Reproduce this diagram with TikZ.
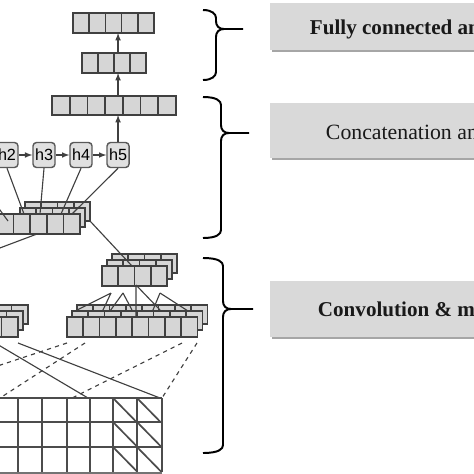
\documentclass[tikz,border=0pt]{standalone}
\usepackage{fontspec}
\setmainfont{Liberation Serif}
\newfontfamily\hfont{Liberation Sans}
\usetikzlibrary{calc, positioning}

\tikzset{
  cell/.style={draw=black!75, fill=black!16, line width=1.2pt},
  hbox/.style={draw=black!65, fill=black!12, rounded corners=2.5pt, line width=1pt,
    minimum width=0.55cm, minimum height=0.625cm, inner sep=0pt,
    font=\hfont\fontsize{11.5}{13}\selectfont},
  link/.style={black!75, line width=0.8pt},
  gridline/.style={black!70, line width=1.2pt},
  curly/.style={black, line width=1.4pt},
  tag/.style={fill=black!15},
  tagtext/.style={anchor=west, text=black!90},
}

% a row of cells: name, left, top, cells, cell width, height
\newcommand{\cellrow}[6]{%
  \foreach \k in {1,...,#4}
    \draw[cell] ({#2+(\k-1)*#5},{#3}) rectangle ++(#5,#6);
  \coordinate (#1-nw) at ({#2},{#3});
  \coordinate (#1-se) at ({#2+#4*#5},{#3+#6});
}
% three stacked feature maps
\newcommand{\layers}[5]{%
  \cellrow{#1-c}{#2+10}{#3-12}{#4}{#5}{19}
  \cellrow{#1-b}{#2+5}{#3-6}{#4}{#5}{19}
  \cellrow{#1}{#2}{#3}{#4}{#5}{20}
}
% curly brace: top, tip, bottom, spine x, tick end
\newcommand{\curly}[5]{%
  \draw[curly] (203,#1) .. controls ({#4-4},#1) and (#4,{#1+4}) .. (#4,{#1+8})
    -- (#4,{#2-8}) .. controls (#4,{#2-3}) and ({#4+3},#2) .. ({#4+8},#2) -- (#5,#2);
  \draw[curly] ({#4+8},#2) .. controls ({#4+3},#2) and (#4,{#2+3}) .. (#4,{#2+8})
    -- (#4,{#3-8}) .. controls (#4,{#3-4}) and ({#4-4},#3) .. (203,#3);
}

\begin{document}
\begin{tikzpicture}[x=0.025cm, y=-0.025cm, >=latex]
  \useasboundingbox (0,0) rectangle (474,474);
  \clip (0,0) rectangle (474,474);

  % fully connected and concatenation rows
  \cellrow{fcB}{73}{13}{5}{16.2}{20}
  \cellrow{fcA}{82}{53}{4}{16}{20}
  \cellrow{cat}{52}{96}{7}{17.7}{19}

  % hidden states
  \node[hbox] (h2) at (7,155) {h2};
  \node[hbox, right=0.34cm of h2] (h3) {h3};
  \node[hbox, right=0.34cm of h3] (h4) {h4};
  \node[hbox, right=0.34cm of h4] (h5) {h5};
  \foreach \a/\b in {h2/h3, h3/h4, h4/h5}
    \draw[->, link] (\a) -- (\b);
  \draw[->, link] (h5.north) -- (h5.north |- cat-se);
  \draw[->, link] (h5.north |- cat-nw) -- (h5.north |- fcA-se);
  \draw[->, link] (h5.north |- fcA-nw) -- (h5.north |- fcB-se);

  % pooled features on the left
  \cellrow{featL-c}{25}{202}{4}{16.25}{19}
  \cellrow{featL-b}{20}{208}{4}{16.25}{19}
  \cellrow{featL}{-3}{214}{5}{16.6}{20}
  \foreach \h/\x in {h2/24, h3/40, h4/61, h5/72}{
    \coordinate (in-\h) at (\x,214);
    \draw[link] (\h.south) -- (in-\h);
  }
  \coordinate (hOne) at (-22,180);
  \draw[link] (hOne) -- (8,221);
  \draw[link] (37,234) -- (-40,263);

  % pooling and convolution maps
  \layers{poolM}{102}{266}{4}{16.3}
  \draw[link] (featL-c-se) -- (132,266);
  \layers{convR}{67}{317}{8}{16.3}
  \layers{convL}{-15}{317}{2}{16.5}
  \draw[link] (111,293) -- (75,311) (111,293) -- (103,310);
  \draw[link] (123,293) -- (110,311) (123,293) -- (132,310);
  \draw[link] (136,285) -- (136,317) (136,285) -- (160,310);
  \draw[link] (160,293) -- (153,310) (160,293) -- (188,311);

  % filter windows
  \draw[link, dashed] (67,343) -- (-60,385);
  \draw[link, dashed] (85,343) -- (0,398);
  \draw[link, dashed] (182,343) -- (72,398);
  \draw[link, dashed] (197,343) -- (162,398);
  \draw[link] (-15,337) -- (88,398);
  \draw[link] (18,343) -- (160,398);

  % input matrix
  \foreach \x in {18,42,67,90,113,137,162}
    \draw[gridline] (\x,398) -- (\x,472);
  \foreach \y in {398,422,447}
    \draw[gridline] (-10,\y) -- (162,\y);
  \draw[black!55, line width=1.8pt] (-10,473) -- (162,473);
  \foreach \x in {113,137}
    \foreach \y in {398,422,447}
      \draw[gridline] (\x,\y) -- ++(24,24.5);

  % braces
  \curly{10}{29}{80}{216}{243}
  \curly{97}{133}{238}{221}{249}
  \curly{258}{309}{453}{223}{253}

  % layer names
  \fill[black!35] (272,6) rectangle (480,52);
  \fill[tag] (270,3) rectangle (480,50);
  \node[tagtext, font=\bfseries\fontsize{15}{18}\selectfont] (fcTag) at (305,29) {Fully connected and};
  \fill[black!35] (272,106) rectangle (480,160);
  \fill[tag] (270,103) rectangle (480,158);
  \node[tagtext, font=\fontsize{15.5}{18}\selectfont] (catTag) at (321,132) {Concatenation and};
  \fill[black!35] (272,284) rectangle (480,339);
  \fill[tag] (270,281) rectangle (480,337);
  \node[tagtext, font=\bfseries\fontsize{15}{18}\selectfont] (convTag) at (313,309) {Convolution \& max};
\end{tikzpicture}
\end{document}
